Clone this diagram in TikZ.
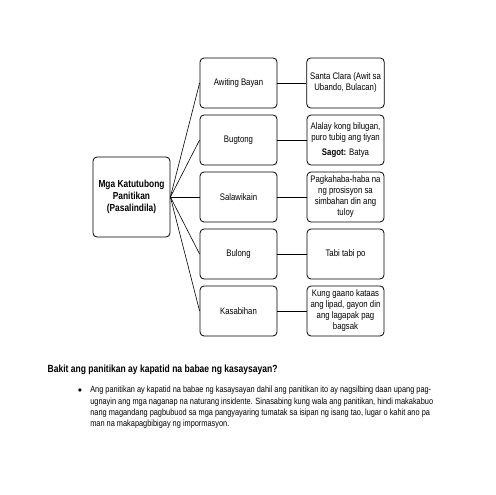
\documentclass[tikz,border=0pt]{standalone}
\usepackage{fontspec}
\setmainfont[FakeStretch=0.82]{Liberation Sans}
\usepackage{xcolor}

\tikzset{
  rootbox/.style={draw, line width=0.8pt, rounded corners=4pt, minimum width=77pt,
    minimum height=80pt, align=center, font=\fontsize{10.2}{12}\selectfont\bfseries},
  kindbox/.style={draw, line width=0.8pt, rounded corners=4pt, minimum width=77pt,
    minimum height=50pt, align=center, font=\fontsize{9.5}{11}\selectfont},
  samplebox/.style={kindbox}
}

\begin{document}
\begin{tikzpicture}[x=1pt, y=-1pt, line width=0.6pt]
    \useasboundingbox (0,0) rectangle (495,495);

    % Root of the chart
    \node[rootbox] (root) at (131.5,197) {Mga Katutubong\\Panitikan\\(Pasalindila)};

    % Kinds of literature
    \node[kindbox] (awit) at (238.5,83) {Awiting Bayan};
    \node[kindbox] (bugtong) at (238.5,140) {Bugtong};
    \node[kindbox] (salawikain) at (238.5,197) {Salawikain};
    \node[kindbox] (bulong) at (238.5,254) {Bulong};
    \node[kindbox] (kasabihan) at (238.5,311) {Kasabihan};

    % Examples for each kind
    \node[samplebox] (awitex) at (345.5,83) {Santa Clara (Awit sa\\Ubando, Bulacan)};
    \node[samplebox] (bugtongex) at (345.5,140) {Alalay kong bilugan,\\puro tubig ang tiyan\\[4pt]\textbf{Sagot:} Batya};
    \node[samplebox] (salawikainex) at (345.5,197) {Pagkahaba-haba na\\ng prosisyon sa\\simbahan din ang\\tuloy};
    \node[samplebox] (bulongex) at (345.5,254) {Tabi tabi po};
    \node[samplebox] (kasabihanex) at (345.5,311) {Kung gaano kataas\\ang lipad, gayon din\\ang lagapak pag\\bagsak};

    % Connectors from the root
    \draw (root.east) -- (awit.west);
    \draw (root.east) -- (bugtong.west);
    \draw (root.east) -- (salawikain.west);
    \draw (root.east) -- (bulong.west);
    \draw (root.east) -- (kasabihan.west);

    % Connectors to the examples
    \draw (awit.east) -- (awitex.west);
    \draw (bugtong.east) -- (bugtongex.west);
    \draw (salawikain.east) -- (salawikainex.west);
    \draw (bulong.east) -- (bulongex.west);
    \draw (kasabihan.east) -- (kasabihanex.west);

    % Question and answer below the chart
    \node[anchor=west, font=\fontsize{10.4}{12}\selectfont\bfseries] (question) at (44,370)
      {Bakit ang panitikan ay kapatid na babae ng kasaysayan?};
    \node[font=\fontsize{8}{8}\selectfont] (bullet) at (80,391) {$\bullet$};
    \node[anchor=north west, align=left, inner sep=0pt, font=\fontsize{9}{11.2}\selectfont] (answer) at (90,386)
      {Ang panitikan ay kapatid na babae ng kasaysayan dahil ang panitikan ito ay nagsilbing daan upang pag-\\
       ugnayin ang mga naganap na naturang insidente. Sinasabing kung wala ang panitikan, hindi makakabuo\\
       nang magandang pagbubuod sa mga pangyayaring tumatak sa isipan ng isang tao, lugar o kahit ano pa\\
       man na makapagbibigay ng impormasyon.};
  \end{tikzpicture}
\end{document}
